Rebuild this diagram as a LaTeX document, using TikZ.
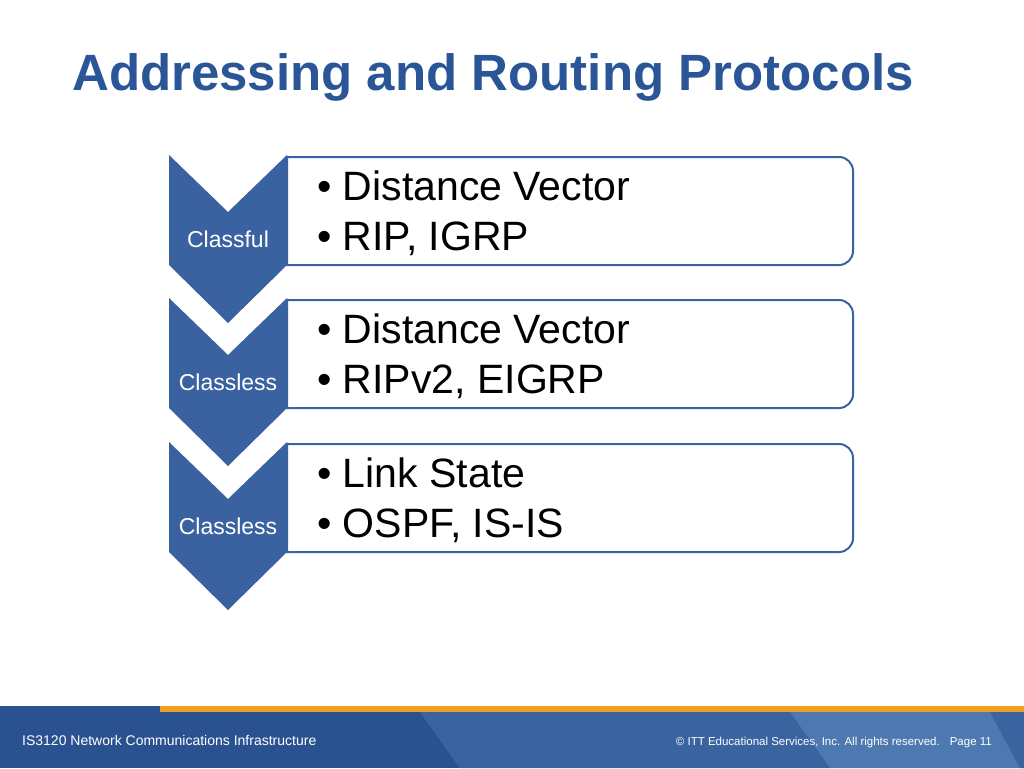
\documentclass[tikz,border=0pt]{standalone}
\usepackage{fontspec}
\setmainfont{Liberation Sans}
\begin{document}
\begin{tikzpicture}[x=1pt,y=-1pt,
  chev/.style={fill=chevblue,draw=none},
  box/.style={draw=chevblue,line width=2pt,fill=white},
  lbl/.style={text=white,font=\fontsize{23}{26}\selectfont,inner sep=0pt},
  item/.style={anchor=north west,align=left,font=\fontsize{41}{50}\selectfont,inner sep=0pt}]
\definecolor{chevblue}{HTML}{3B62A0}
\definecolor{titleblue}{HTML}{2A5596}
\definecolor{footdark}{HTML}{2B5290}
\definecolor{footmid}{HTML}{3A64A0}
\definecolor{footlight}{HTML}{4E78B0}
\definecolor{orng}{HTML}{F0A020}
\useasboundingbox (0,0) rectangle (1024,768);
\fill[white] (0,0) rectangle (1024,768);
\node[anchor=base west,inner sep=0pt,text=titleblue,font=\fontsize{51}{56}\selectfont\bfseries] (title) at (72,90) {Addressing and Routing Protocols};
\foreach \i/\t/\l/\a/\b in {0/155/Classful/Distance Vector/{RIP, IGRP},1/298/Classless/Distance Vector/{RIPv2, EIGRP},2/442/Classless/Link State/{OSPF, IS-IS}}{
  \draw[box] (287,\t+2) [rounded corners=14pt] -- (853,\t+2) -- (853,\t+110) [sharp corners] -- (287,\t+110) -- cycle;
  \fill[chev] (169,\t) -- (228,\t+57) -- (287,\t) -- (287,\t+110) -- (228,\t+168) -- (169,\t+110) -- cycle;
  \node[lbl,anchor=base] (c\i) at (228,\t+92) {\l};
  \node[item] (t\i) at (317,\t+16) {• \a\\• \b};
}
% footer
\fill[footdark] (0,706) rectangle (1024,768);
\fill[footmid] (420,712) -- (790,712) -- (830,768) -- (460,768) -- cycle;
\fill[footlight] (790,712) -- (1024,712) -- (1024,768) -- (830,768) -- cycle;
\fill[footmid] (990,712) -- (1024,712) -- (1024,768) -- (1020,768)-- cycle;
\fill[orng] (160,706) rectangle (1024,712);
\node[anchor=base west,text=white,font=\fontsize{14}{16}\selectfont,inner sep=0pt] (f1) at (22,745) {IS3120 Network Communications Infrastructure};
\node[anchor=base east,text=white,font=\fontsize{11.5}{13}\selectfont,inner sep=0pt] (f2) at (992,745) {© ITT Educational Services, Inc. All rights reserved.\hspace{10pt}Page 11};
\end{tikzpicture}
\end{document}
